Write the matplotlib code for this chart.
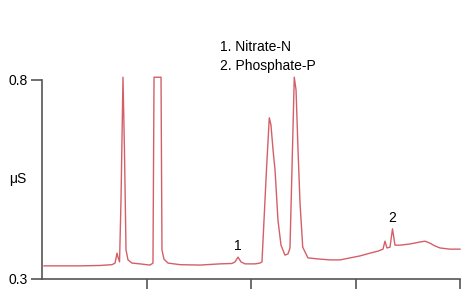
import matplotlib
matplotlib.use("Agg")
import matplotlib.pyplot as plt

time = [0.019, 0.172, 0.364, 0.555, 0.670, 0.699, 0.718, 0.727, 0.742, 0.756, 0.775, 0.789, 0.804,
        0.823, 0.861, 0.938, 1.033, 1.062, 1.072, 1.139, 1.148, 1.167, 1.206, 1.321, 1.512, 1.703,
        1.818, 1.847, 1.876, 1.904, 1.943, 2.038, 2.086, 2.105, 2.148, 2.175, 2.191, 2.211, 2.230,
        2.258, 2.287, 2.325, 2.354, 2.373, 2.392, 2.414, 2.431, 2.450, 2.469, 2.495, 2.545, 2.660,
        2.756, 2.852, 2.947, 3.043, 3.139, 3.215, 3.263, 3.282, 3.301, 3.330, 3.354, 3.378,
        3.426, 3.522, 3.617, 3.665, 3.713, 3.761, 3.809, 3.904, 4.0]
signal = [0.333, 0.333, 0.333, 0.334, 0.336, 0.340, 0.365, 0.355, 0.343, 0.498, 0.807, 0.624, 0.373,
          0.348, 0.340, 0.338, 0.335, 0.340, 0.807, 0.807, 0.373, 0.350, 0.340, 0.336, 0.335, 0.338,
          0.339, 0.343, 0.355, 0.343, 0.338, 0.338, 0.340, 0.343, 0.574, 0.705, 0.687, 0.624, 0.574,
          0.448, 0.385, 0.360, 0.363, 0.378, 0.574, 0.807, 0.775, 0.624, 0.491, 0.380, 0.353, 0.350,
          0.348, 0.348, 0.353, 0.358, 0.365, 0.370, 0.375, 0.395, 0.378, 0.380, 0.426, 0.385,
          0.385, 0.388, 0.393, 0.395, 0.390, 0.383, 0.378, 0.375, 0.375]

peak_labels = ["1", "2"]
peak_times = [1.876, 3.354]
peak_values = [0.355, 0.426]
legend_lines = ["1. Nitrate-N", "2. Phosphate-P"]
y_ticks = [0.3, 0.8]
y_ticklabels = ["0.3", "0.8"]
x_ticks = [1, 2, 3, 4]
y_label = "μS"

plt.rcParams['font.family'] = ['Liberation Sans', 'DejaVu Sans']

fig = plt.figure(figsize=(4.68, 3.0), dpi=100)
ax = fig.add_axes([42/468, 21/300, 418/468, 199/300])
ax.plot(time, signal, color='#d45f68', lw=1.0, clip_on=False, zorder=3)
ax.set_xlim(0, 4)
ax.set_ylim(0.3, 0.8)

for s in ['top', 'right']:
    ax.spines[s].set_visible(False)
for s in ['left', 'bottom']:
    ax.spines[s].set_color('#555555')
    ax.spines[s].set_linewidth(1.2)

ax.set_yticks(y_ticks)
ax.set_yticklabels(y_ticklabels)
ax.set_xticks(x_ticks)
ax.set_xticklabels([])
ax.tick_params(axis='y', length=8, width=1.2, color='#555555', labelsize=10, pad=2)
ax.tick_params(axis='x', length=7, width=1.2, color='#555555')

ax.text(-0.057, 0.5, y_label, transform=ax.transAxes, ha='center', va='center', fontsize=10)

for lab, t, v in zip(peak_labels, peak_times, peak_values):
    ax.annotate(lab, (t, v), xytext=(0, 3), textcoords='offset points', ha='center', va='bottom', fontsize=10)

fig.text(220/468, 1 - 47/300, legend_lines[0], ha='left', va='center', fontsize=10)
fig.text(220/468, 1 - 66/300, legend_lines[1], ha='left', va='center', fontsize=10)

fig.savefig('out.png', dpi=100)
